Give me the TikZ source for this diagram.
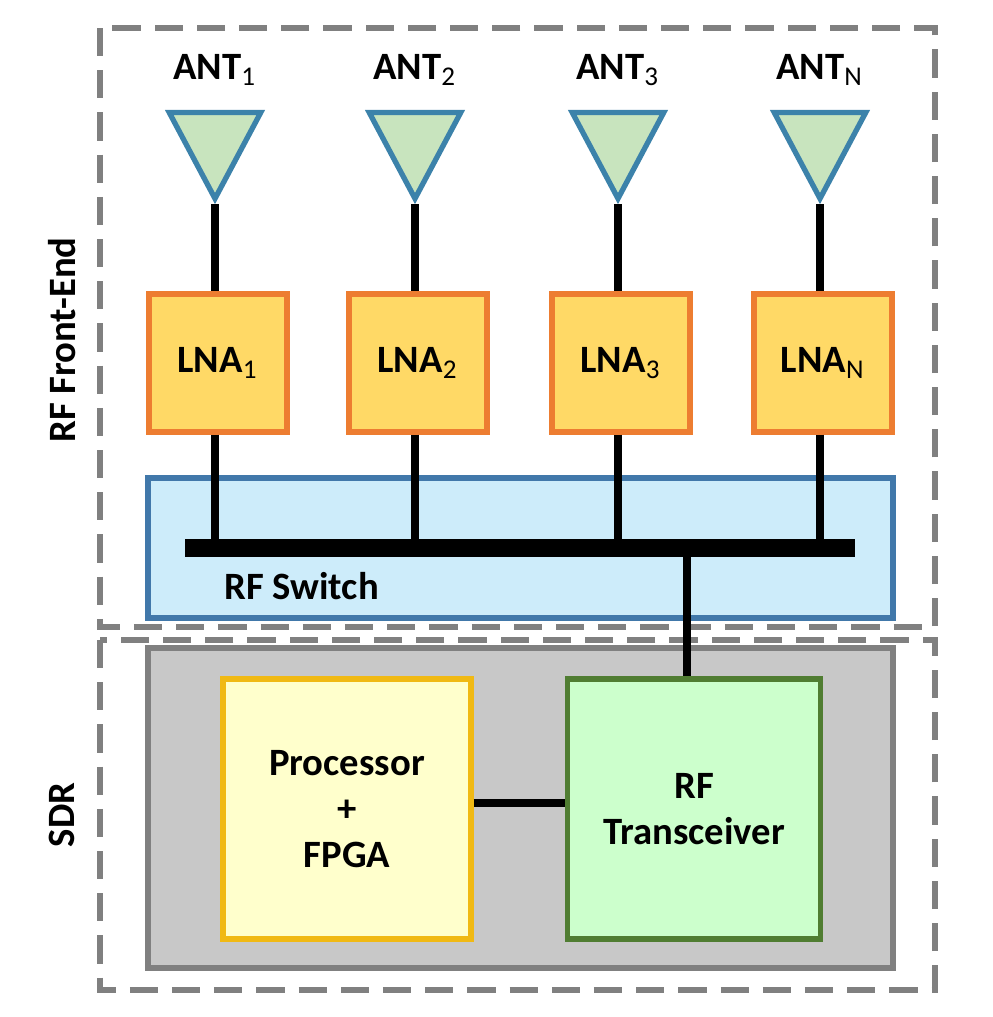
\documentclass[tikz,border=0pt]{standalone}
\usepackage{fontspec}
\setmainfont{Carlito}
\usetikzlibrary{positioning}
\definecolor{antfill}{RGB}{200,228,190}
\definecolor{antline}{RGB}{60,130,170}
\definecolor{lnafill}{RGB}{255,217,102}
\definecolor{lnaline}{RGB}{237,125,49}
\definecolor{swfill}{RGB}{205,236,250}
\definecolor{swline}{RGB}{65,120,170}
\definecolor{sdrfill}{RGB}{200,200,200}
\definecolor{sdrline}{RGB}{128,128,128}
\definecolor{procfill}{RGB}{255,255,204}
\definecolor{procline}{RGB}{240,185,20}
\definecolor{trxfill}{RGB}{204,255,204}
\definecolor{trxline}{RGB}{80,125,50}
\tikzstyle{lna}=[draw=lnaline,fill=lnafill,line width=1.5pt,minimum size=1.38cm,inner sep=0pt,font=\bfseries\fontsize{11}{13}\selectfont]
\tikzstyle{ant}=[draw=antline,fill=antfill,line width=1.5pt,isosceles triangle,shape border rotate=-90,isosceles triangle apex angle=56,minimum height=0.86cm,inner sep=0pt]
\tikzstyle{wire}=[line width=2.5pt]
\tikzstyle{group}=[draw=gray,dashed,line width=1.5pt,dash pattern=on 8pt off 4pt]
\usetikzlibrary{shapes.geometric}
\begin{document}
\begin{tikzpicture}[x=0.01cm,y=-0.01cm,font=\bfseries\fontsize{11}{13}\selectfont]
\useasboundingbox (0,0) rectangle (993,1017);
% dashed groups
\draw[group] (100,28) rectangle (935,627);
\draw[group] (100,640) rectangle (935,990);
\node[rotate=90] (fe) at (62,340) {RF Front-End};
\node[rotate=90] (sdr) at (62,815) {SDR};
% switch and sdr boxes
\draw[draw=swline,fill=swfill,line width=1.5pt] (148,478) rectangle (893,618);
\node[anchor=west] (swl) at (212,586) {RF Switch};
\draw[draw=sdrline,fill=sdrfill,line width=1.5pt] (148,648) rectangle (893,968);
\node[draw=procline,fill=procfill,line width=1.5pt,minimum width=2.48cm,minimum height=2.6cm,align=center] (proc) at (347,809) {Processor\\+\\FPGA};
\node[draw=trxline,fill=trxfill,line width=1.5pt,minimum width=2.53cm,minimum height=2.6cm,align=center] (trx) at (694,809) {RF\\Transceiver};
% bus
\coordinate (busL) at (185,548);
\coordinate (busR) at (855,548);
\draw[line width=0.18cm] (busL) -- (busR);
\coordinate (tap) at (687,548);
\draw[wire] (tap) -- (trx.north -| tap);
\draw[wire] (proc.east |- 0,803) -- (trx.west |- 0,803);
% antenna chains
\foreach \i/\x/\s in {1/215/1,2/415/2,3/618/3,4/820/N}{
  \node[ant] (a\i) at (\x,140) {};
  \node (t\i) at (\x,70) {ANT$_{\mathrm{\s}}$};
  \node[lna] (l\i) at (\x+3,363) {LNA$_{\mathrm{\s}}$};
  \coordinate (b\i) at (\x,548);
  \draw[wire] (a\i.apex) -- (l\i.north -| a\i.apex);
  \draw[wire] (l\i.south -| b\i) -- (b\i);
}
\end{tikzpicture}
\end{document}
